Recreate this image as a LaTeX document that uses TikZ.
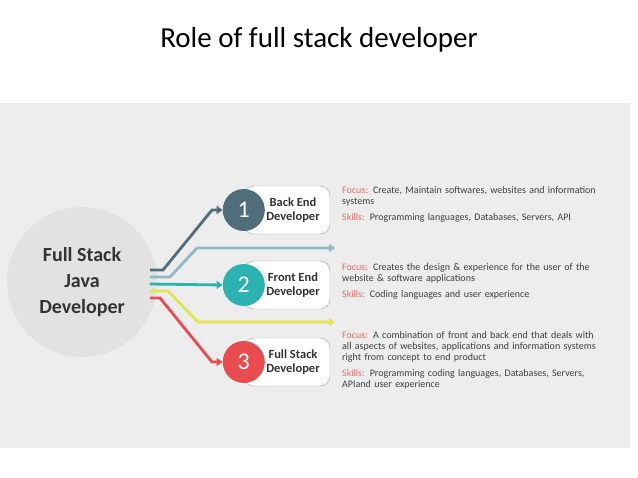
\documentclass[tikz,border=0pt]{standalone}
\usepackage{fontspec}
\setmainfont{Carlito}
\usetikzlibrary{arrows.meta}
\definecolor{cA}{HTML}{4F6D7A}
\definecolor{cB}{HTML}{2AB3B1}
\definecolor{cC}{HTML}{E84C4F}
\definecolor{cL}{HTML}{8FB8C8}
\definecolor{cY}{HTML}{E2E64A}
\definecolor{pan}{HTML}{EDEDED}
\definecolor{circ}{HTML}{E2E2E2}
\definecolor{lab}{HTML}{E8706A}
\tikzset{
 box/.style={draw=gray!70, fill=white, rounded corners=10pt, minimum width=86pt, minimum height=48pt},
 blab/.style={align=center, font=\bfseries\fontsize{12.5}{13.5}\selectfont, text=black!80},
 num/.style={circle, minimum size=42pt, text=white, font=\fontsize{24}{24}\selectfont},
 conn/.style={line width=2.8pt, -{Triangle[length=6pt,width=8pt]}},
 info/.style={anchor=north west, align=left, text width=262pt, inner sep=0pt, font=\fontsize{10}{11}\selectfont, text=black!75},
}
\begin{document}
\begin{tikzpicture}[x=1pt,y=-1pt]
\useasboundingbox (0,0) rectangle (638,478);
\fill[pan] (0,103) rectangle (630,448);
\node[font=\fontsize{29}{32}\selectfont] (title) at (319,40) {Role of full stack developer};
\node[circle, fill=circ, minimum size=150pt, align=center, font=\bfseries\fontsize{20}{26}\selectfont, text=black!80] (fs) at (82,282) {Full Stack\\Java\\Developer};
% badges
\node[box] (b1) at (287,210) {};
\node[num, fill=cA] (n1) at (b1.west) {1};
\node[blab] (l1) at (293,210) {Back End\\Developer};
\node[box] (b2) at (287,285) {};
\node[num, fill=cB] (n2) at (b2.west) {2};
\node[blab] (l2) at (293,285) {Front End\\Developer};
\node[box] (b3) at (287,362) {};
\node[num, fill=cC] (n3) at (b3.west) {3};
\node[blab] (l3) at (293,362) {Full Stack\\Developer};
% connectors
\coordinate (s1) at (150,270); \coordinate (s2) at (150,277);
\coordinate (s3) at (150,284); \coordinate (s4) at (150,291); \coordinate (s5) at (150,298);
\coordinate (e2) at (335,248); \coordinate (e4) at (335,322);
\draw[conn, cA] (s1) -- (163,270) -- (212,210) -- (n1.west);
\draw[conn, cL] (s2) -- (170,277) -- (197,248) -- (e2);
\draw[conn, cB] (s3) -- (n2.west);
\draw[conn, cY] (s4) -- (168,291) -- (198,322) -- (e4);
\draw[conn, cC] (s5) -- (160,298) -- (212,362) -- (n3.west);
% info
\node[info] (t1) at (342,186) {\textcolor{lab}{Focus:} Create, Maintain softwares, websites and information systems\\[5pt]\textcolor{lab}{Skills:} Programming languages, Databases, Servers, API};
\node[info] (t2) at (342,263) {\textcolor{lab}{Focus:} Creates the design \& experience for the user of the website \& software applications\\[5pt]\textcolor{lab}{Skills:} Coding languages and user experience};
\node[info] (t3) at (342,331) {\textcolor{lab}{Focus:} A combination of front and back end that deals with all aspects of websites, applications and information systems right from concept to end product\\[5pt]\textcolor{lab}{Skills:} Programming coding languages, Databases, Servers, APIand user experience};
\end{tikzpicture}
\end{document}
